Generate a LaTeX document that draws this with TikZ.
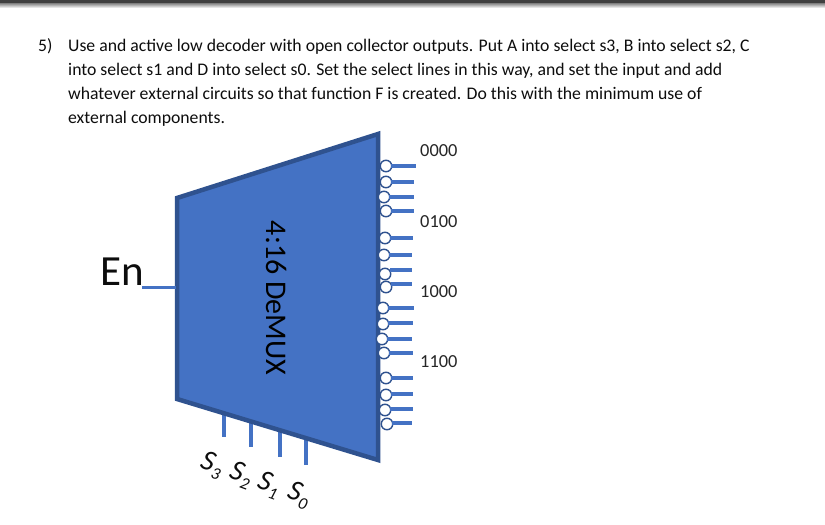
\documentclass[tikz,border=0pt]{standalone}
\usepackage{fontspec}
\setmainfont{Carlito}
\definecolor{fillblue}{HTML}{4472C4}
\definecolor{edgeblue}{HTML}{2F528F}
\definecolor{inktext}{HTML}{262626}
\newcommand{\selname}[1]{S\raisebox{-6pt}{\fontsize{17}{18}\selectfont #1}}
\tikzset{
  bodytext/.style={anchor=base west,inner sep=0pt,font=\fontsize{17.7}{20}\selectfont,text=black!95},
  codetext/.style={anchor=base west,inner sep=0pt,font=\fontsize{18.4}{20}\selectfont,text=inktext},
  selecttext/.style={inner sep=0pt,rotate=-20,font=\fontsize{29}{30}\selectfont\itshape,text=black!95},
  wire/.style={draw=fillblue,line width=4.2pt},
  bubble/.style={circle,draw=edgeblue,fill=white,line width=1.4pt,minimum size=11.5pt,inner sep=0pt}
}
\begin{document}
\begin{tikzpicture}[x=1pt,y=-1pt]
\useasboundingbox (0,0) rectangle (825,525);
\fill[white] (0,0) rectangle (825,525);
\shade[top color=black!80,bottom color=white] (0,0) rectangle (825,8);
\fill[black!75] (0,0) rectangle (825,2.5);
% question text
\node[bodytext] (num) at (38,51) {5)};
\node[bodytext] (l1) at (68,51) {Use and active low decoder with open collector outputs. Put A into select s3, B into select s2, C};
\node[bodytext] (l2) at (68,75) {into select s1 and D into select s0. Set the select lines in this way, and set the input and add};
\node[bodytext] (l3) at (68,99) {whatever external circuits so that function F is created. Do this with the minimum use of};
\node[bodytext] (l4) at (68,123) {external components.};
% select stubs
\foreach \n/\x/\ya/\yb in {3/224/395/437,2/251/404/447,1/280/413/457,0/306/422/465}{
  \coordinate (st\n) at (\x,\ya);
  \coordinate (se\n) at (\x,\yb);
  \draw[wire] (st\n) -- (se\n);
}
% body
\coordinate (tl) at (177,198);
\coordinate (tr) at (378,134);
\coordinate (br) at (378,460);
\coordinate (bl) at (177,399);
\draw[fill=fillblue,draw=edgeblue,line width=4.5pt,line join=miter] (tl) -- (tr) -- (br) -- (bl) -- cycle;
\node[inner sep=0pt,rotate=-90,font=\fontsize{30}{32}\selectfont,text=black] (title) at (277,298) {4:16 DeMUX};
% enable
\node[anchor=base west,inner sep=0pt,font=\fontsize{43}{46}\selectfont,text=black!95] (en) at (100,285) {En};
\coordinate (enA) at (142,287.5);
\coordinate (enB) at (176,287.5);
\draw[draw=fillblue,line width=2.6pt] (enA) -- (enB);
% outputs
\foreach \i/\cx/\cy/\ly/\ex in {1/386/166/166/416,2/386/182/182/414,3/384/197/197/414,4/386/211/211/414,5/385/238/238/413,6/384/255/255/412,7/385/274/270/412,8/386/287/284/412,9/383/308/308/414,10/383/324/323/413,11/382/339/339/412,12/384/353/353/413,13/386/378/378/413,14/386/395/394/413,15/385/410/409/413,16/387/424/423/412}{
  \coordinate (oe\i) at (\ex,\ly);
  \node[bubble] (ob\i) at (\cx,\cy) {};
  \coordinate (os\i) at (\cx+5,\ly);
  \draw[wire] (os\i) -- (oe\i);
}
% codes
\node[codetext] (c0) at (420,156) {0000};
\node[codetext] (c1) at (420,227) {0100};
\node[codetext] (c2) at (420,297) {1000};
\node[codetext] (c3) at (420,367) {1100};
% select labels
\node[selecttext] (s3) at (212,465) {\selname{3}};
\node[selecttext] (s2) at (241,475) {\selname{2}};
\node[selecttext] (s1) at (269,485) {\selname{1}};
\node[selecttext] (s0) at (299,495) {\selname{0}};
\end{tikzpicture}
\end{document}
